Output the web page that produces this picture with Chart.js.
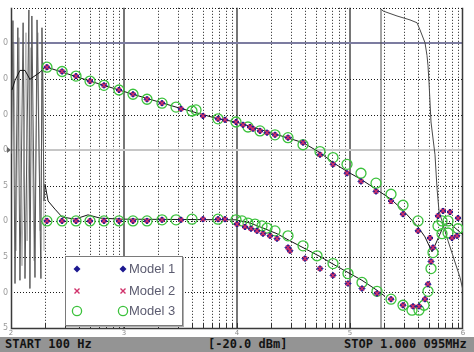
<!DOCTYPE html>
<html><head><meta charset="utf-8">
<script src="https://cdn.jsdelivr.net/npm/chart.js@4.4.0/dist/chart.umd.min.js"></script>
<style>
html,body{margin:0;padding:0;background:#fff;overflow:hidden}
#wrap{position:relative;width:474px;height:352px}
#c{position:absolute;left:0;top:0}
#bar{position:absolute;left:0;top:337px;width:474px;height:15px;background:#949494;font:bold 12px "DejaVu Sans Mono",monospace;color:#141414}
#bar span{position:absolute;top:0;line-height:15px;white-space:pre}
#legend{position:absolute;left:65px;top:256px;width:116px;height:68px;background:#fff;border:1px solid #7a7a7a;box-shadow:1px 1px 0 #b0b0b0}
.row{position:absolute;left:0;height:16px;width:116px}
.row svg{position:absolute;top:2px}
.row span{position:absolute;left:63px;top:0;font:13px "Liberation Sans",Arial,sans-serif;color:#5c5c70;line-height:16px}
</style></head>
<body>
<div id="wrap">
<canvas id="c" width="474" height="337"></canvas>
<div id="legend"></div>
<div id="bar"><span style="left:5px">START 100 Hz</span><span style="left:208px">[-20.0 dBm]</span><span style="left:344px">STOP 1.000 095MHz</span></div>
</div>
<script>
// ---- axes ----
const xTickValues = [100, 1000, 10000, 100000, 1000000];
const xTickLabels = ['2', '3', '4', '5', '6'];
const yTickValues = [0, 1, 2, 3, 4, 5, 6, 7, 8, 9];
const yTickLabels = ['5', '0', '5', '0', '5', '0', '0', '0', '0', ''];
const legendLabels = ['Model 1', 'Model 2', 'Model 3'];

// ---- measured traces (frequency in Hz, level in screen divisions) ----
const traceUpperHz = [102,108.5,120,133,147,170,181,200,208,500,1201,2886,6790,9800,38380,54260,70730,94100,125100,169900,230700,294400,399800,461000,531800,588800,679000,767400,867000,1000000];
const traceUpperVal = [6.69,6.96,7.24,7.24,6.99,7.13,7.19,7.33,7.33,6.94,6.57,6.21,5.88,5.79,5.21,4.93,4.65,4.40,4.18,3.90,3.62,3.31,2.84,2.56,2.14,2.45,2.90,2.95,2.79,2.62];

const traceLowerHz = [200,213,245,283,368,480,613,922,9800,13030,16990,22600,29440,38380,54260,72180,96000,127700,173400,204000];
const traceLowerVal = [4.04,3.57,3.34,3.12,3.06,3.18,3.09,3.06,3.04,2.95,2.81,2.65,2.45,2.26,2.01,1.78,1.56,1.34,1.06,0.89];

const traceRightHz = [188100,188100,195900,260600,339600,391700,416300,461000,480100,490000,500200,521000,565200,588800,613200,736900,940800,1000000];
const traceRightVal = [0,8.97,8.91,8.77,8.66,8.58,8.38,8.02,7.66,7.38,6.91,5.79,4.87,3.93,3.29,2.45,1.42,1.06];

const noiseDarkHz = [101,104,108.5,115,120,128,133,144,147,153,163,170,184,188,196,200];
const noiseDarkVal = [4.9,8.64,1.25,8.44,1.34,8.58,1.39,8.94,1.11,8.77,1.42,8.66,1.39,8.44,3.57,4.04];

const noiseLightHz = [106,110.7,117.7,125,135.7,139,150,160,173,181,192,196];
const noiseLightVal = [8.02,2.17,8.16,1.75,8.30,2.45,7.88,1.89,8.30,2.73,7.47,2.17];

// ---- model points ----
const model12Hz = [208,283,376,500,665,903,1201,1598,2170,3194,5002,6790,7832,9800,11300,13030,13860,15980,18430,21690,28270,38380,54260,70730,94100,125100,169900,230700,294400,399800,510500,600900,665300,767400,903300,799200,885000,
  208,283,376,500,665,903,1201,1598,2170,3194,5002,6790,7832,10000,11770,13300,15030,16990,19590,22600,28270,29440,39980,54260,70730,96000,127700,173400,230700,294400,361100,407900,461000,490000,521000,542600];
const model1Val = [7.33,7.21,7.08,6.94,6.82,6.69,6.57,6.43,6.32,6.16,5.96,5.88,5.85,5.79,5.71,5.65,5.60,5.54,5.49,5.43,5.35,5.21,4.87,4.60,4.35,4.12,3.84,3.57,3.20,2.73,2.53,3.15,3.29,3.26,3.09,2.53,2.59,
  3.01,3.01,3.01,3.01,3.01,3.01,3.01,3.01,3.04,3.04,3.06,3.06,3.06,2.92,2.84,2.79,2.73,2.65,2.59,2.51,2.26,2.17,1.95,1.67,1.48,1.25,1.11,0.97,0.81,0.64,0.61,0.61,0.81,1.23,1.87,2.26];
const model2Val = [7.33,7.21,7.08,6.94,6.82,6.69,6.57,6.43,6.32,6.16,5.96,5.88,5.85,5.79,5.71,5.65,5.60,5.54,5.49,5.43,5.35,5.21,4.87,4.60,4.35,4.12,3.84,3.55,3.20,2.73,2.53,3.15,3.29,3.26,3.09,2.53,2.59,
  3.01,3.01,3.01,3.01,3.01,3.01,3.01,3.01,3.04,3.04,3.06,3.06,3.06,2.92,2.84,2.79,2.73,2.65,2.59,2.51,2.26,2.17,1.95,1.67,1.48,1.25,1.11,0.97,0.81,0.64,0.61,0.61,0.81,1.23,1.87,2.26];
const model3Hz = [208,283,376,500,665,903,1201,1598,2170,2886,3998,4337,6790,9800,12510,15980,21690,28270,38380,54260,70730,94100,125100,169900,230700,294400,399800,600900,652000,736900,652000,736900,903300,
  208,283,376,500,665,903,1201,1598,2170,2886,3998,6790,9800,11070,12510,14430,16640,18430,21690,28270,38380,51050,70730,96000,127700,173400,230700,294400,353800,407900,451800,490000,521000,542600];
const model3Val = [7.33,7.21,7.08,6.94,6.82,6.69,6.57,6.43,6.32,6.21,6.10,6.13,5.88,5.79,5.65,5.54,5.43,5.35,5.15,4.96,4.79,4.60,4.35,4.07,3.76,3.45,3.01,2.87,3.01,3.01,2.65,2.67,2.79,
  3.01,3.01,3.01,3.01,3.01,3.01,3.01,3.01,3.04,3.04,3.06,3.06,3.04,3.01,2.95,2.92,2.87,2.81,2.73,2.59,2.31,2.03,1.81,1.53,1.28,1.03,0.81,0.64,0.50,0.50,0.64,1.03,1.67,2.12];

const pts = (xs, ys) => xs.map((x, i) => ({x: x, y: ys[i]}));

const gridXValues = [];
xTickValues.slice(0, -1).forEach(d => { for (let k = 1; k <= 9; k++) gridXValues.push(d * k); });
gridXValues.push(1000000);

const gridPlugin = {
  id: 'grid',
  beforeDatasetsDraw(chart) {
    const {ctx, chartArea: a, scales: {x, y}} = chart;
    ctx.save();
    gridXValues.forEach(v => {
      const px = Math.round(x.getPixelForValue(v));
      if (px <= a.left + 1 || px >= a.right - 1) return;
      const lg = Math.log10(v);
      const decade = Math.abs(lg - Math.round(lg)) < 1e-9;
      ctx.beginPath();
      if (decade) {
        ctx.setLineDash([]); ctx.strokeStyle = '#767676'; ctx.lineWidth = 2;
        ctx.moveTo(px, a.top); ctx.lineTo(px, a.bottom);
      } else {
        ctx.setLineDash([1, 2]); ctx.strokeStyle = '#1a1a1a'; ctx.lineWidth = 1;
        ctx.moveTo(px + 0.5, a.top); ctx.lineTo(px + 0.5, a.bottom);
      }
      ctx.stroke();
      ctx.setLineDash([]); ctx.beginPath(); ctx.strokeStyle = '#333'; ctx.lineWidth = 1;
      ctx.moveTo(px + 0.5, a.bottom - 5); ctx.lineTo(px + 0.5, a.bottom); ctx.stroke();
    });
    yTickValues.forEach(v => {
      if (v === 0) return;
      const py = Math.round(y.getPixelForValue(v));
      ctx.beginPath();
      if (v === 8) {
        ctx.setLineDash([]); ctx.strokeStyle = '#7c7ca0'; ctx.lineWidth = 2;
        ctx.moveTo(a.left, py); ctx.lineTo(a.right, py);
      } else if (v === 5) {
        ctx.setLineDash([]); ctx.strokeStyle = '#c6c6c6'; ctx.lineWidth = 2;
        ctx.moveTo(a.left, py); ctx.lineTo(a.right, py);
      } else {
        ctx.setLineDash([1, 2]); ctx.strokeStyle = '#1a1a1a'; ctx.lineWidth = 1;
        ctx.moveTo(a.left, py + 0.5); ctx.lineTo(a.right, py + 0.5);
      }
      ctx.stroke();
    });
    ctx.setLineDash([]); ctx.strokeStyle = '#3a3a3a'; ctx.lineWidth = 1.5;
    ctx.beginPath();
    ctx.moveTo(a.left + 0.5, a.top); ctx.lineTo(a.left + 0.5, a.bottom + 0.5);
    ctx.lineTo(a.right - 0.5, a.bottom + 0.5); ctx.lineTo(a.right - 0.5, a.top);
    ctx.stroke();
    const ry = y.getPixelForValue(5);
    ctx.fillStyle = '#666';
    ctx.beginPath(); ctx.moveTo(7, ry - 3); ctx.lineTo(11, ry); ctx.lineTo(7, ry + 3); ctx.closePath(); ctx.fill();
    ctx.restore();
  }
};

const lineDs = (label, xs, ys, color, order) => ({
  label, data: pts(xs, ys), showLine: true, borderColor: color, borderWidth: 1,
  pointRadius: 0, tension: 0, fill: false, order
});

new Chart(document.getElementById('c'), {
  type: 'scatter',
  data: {
    datasets: [
      {label: legendLabels[1], data: pts(model12Hz, model2Val), pointStyle: 'crossRot', pointRadius: 3,
        borderColor: '#d0306a', backgroundColor: '#d0306a', pointBorderWidth: 1.4, order: 0},
      {label: legendLabels[0], data: pts(model12Hz, model1Val), pointStyle: 'rectRot', pointRadius: 3,
        borderColor: '#1c1890', backgroundColor: '#1c1890', pointBorderWidth: 1, order: 1},
      {label: legendLabels[2], data: pts(model3Hz, model3Val), pointStyle: 'circle', pointRadius: 5,
        borderColor: '#3cc23c', backgroundColor: 'rgba(0,0,0,0)', pointBorderWidth: 1.3, order: 2},
      lineDs('upper', traceUpperHz, traceUpperVal, '#141414', 3),
      lineDs('lower', traceLowerHz, traceLowerVal, '#141414', 3),
      lineDs('right', traceRightHz, traceRightVal, '#4a4a4a', 4),
      lineDs('noiseDark', noiseDarkHz, noiseDarkVal, '#585858', 5),
      lineDs('noiseLight', noiseLightHz, noiseLightVal, '#b0b0b0', 6)
    ]
  },
  options: {
    responsive: false, animation: false, devicePixelRatio: 1,
    layout: {padding: {top: 5, right: 11, left: 0, bottom: 0}},
    plugins: {legend: {display: false}, tooltip: {enabled: false}},
    scales: {
      x: {
        type: 'logarithmic', min: 100, max: 1000000, position: 'bottom',
        grid: {display: false, drawTicks: false, tickLength: 0}, border: {display: false},
        afterBuildTicks(s) { s.ticks = xTickValues.map(v => ({value: v})); },
        afterFit(s) { s.height = 9; },
        ticks: {autoSkip: false, maxRotation: 0, padding: 1, color: '#8a8a8a',
          font: {size: 7, family: 'DejaVu Sans'},
          callback: (v, i) => xTickLabels[i]}
      },
      y: {
        type: 'linear', min: 0, max: 9,
        grid: {display: false, drawTicks: false, tickLength: 0}, border: {display: false},
        afterBuildTicks(s) { s.ticks = yTickValues.map(v => ({value: v})); },
        afterFit(s) { s.width = 11; },
        ticks: {autoSkip: false, padding: 3, color: '#9a9a9a', font: {size: 8, family: 'DejaVu Sans'},
          callback: (v, i) => yTickLabels[i]}
      }
    }
  },
  plugins: [gridPlugin]
});

// legend (HTML)
const markerSvg = [
  '<svg width="10" height="10"><polygon points="5,1.5 8.5,5 5,8.5 1.5,5" fill="#1c1890"/></svg>',
  '<svg width="10" height="10"><path d="M2.5 2.5L7.5 7.5M7.5 2.5L2.5 7.5" stroke="#d0306a" stroke-width="1.4"/></svg>',
  '<svg width="12" height="12"><circle cx="6" cy="6" r="4.6" fill="none" stroke="#3cc23c" stroke-width="1.3"/></svg>'
];
const rowTops = [4, 26, 46];
const lg = document.getElementById('legend');
legendLabels.forEach((name, i) => {
  const r = document.createElement('div');
  r.className = 'row';
  r.style.top = rowTops[i] + 'px';
  const off = i === 2 ? 1 : 0;
  r.innerHTML =
    markerSvg[i].replace('<svg', '<svg style="left:' + (6 - off) + 'px;top:' + (3 - off) + 'px"') +
    markerSvg[i].replace('<svg', '<svg style="left:' + (52 - off) + 'px;top:' + (3 - off) + 'px"') +
    '<span>' + name + '</span>';
  lg.appendChild(r);
});
</script>
</body></html>
